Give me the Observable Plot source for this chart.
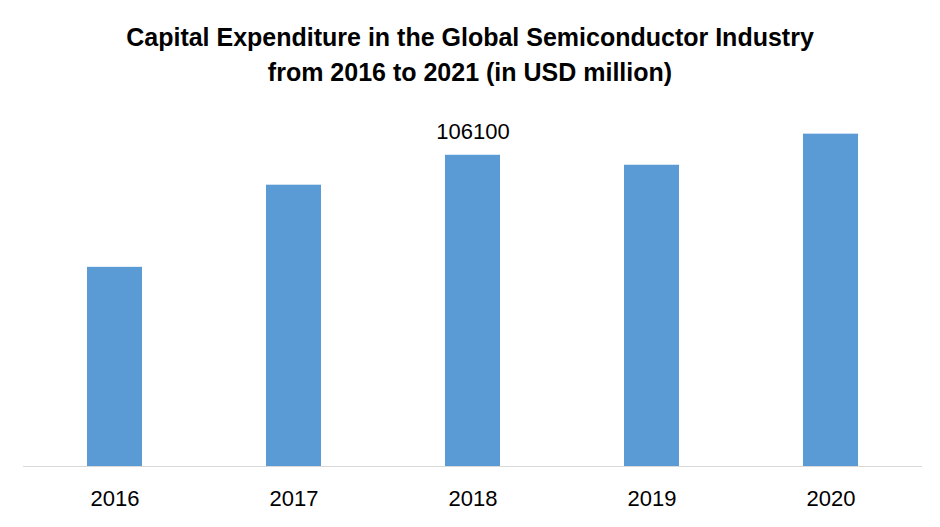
<!DOCTYPE html>
<html>
<head>
<meta charset="utf-8">
<script src="https://cdn.jsdelivr.net/npm/d3@7"></script>
<script src="https://cdn.jsdelivr.net/npm/@observablehq/plot@0.6"></script>
<style>
  html, body { margin: 0; padding: 0; background: #fff; }
  #title {
    width: 940px; height: 100px; box-sizing: border-box; padding-top: 20px;
    text-align: center; font-family: "Liberation Sans", Arial, sans-serif;
    font-weight: bold; font-size: 25px; line-height: 35px; color: #000;
  }
  #chart svg { display: block; }
</style>
</head>
<body>
<div id="title">Capital Expenditure in the Global Semiconductor Industry<br>from 2016 to 2021 (in USD million)</div>
<div id="chart"></div>
<script>
const years = ["2016", "2017", "2018", "2019", "2020"];
const capex = [67900, 95900, 106100, 102700, 113300];
const labeledYears = ["2018"];

const data = years.map((y, i) => ({year: y, value: capex[i]}));
const labeled = data.filter(d => labeledYears.includes(d.year));

const chart = Plot.plot({
  width: 940,
  height: 427,
  marginLeft: 23,
  marginRight: 18,
  marginTop: 14,
  marginBottom: 61,
  style: {fontFamily: "'Liberation Sans', Arial, sans-serif", fontSize: "22px", color: "#000", background: "#fff"},
  x: {domain: years, paddingInner: 0.69, paddingOuter: 0.345, label: null, tickSize: 0, tickPadding: 24},
  y: {domain: [0, 120000], axis: null},
  marks: [
    Plot.barY(data, {x: "year", y: "value", fill: "#5b9bd5"}),
    Plot.ruleY([0], {stroke: "#d9d9d9", strokeWidth: 1}),
    Plot.text(labeled, {x: "year", y: "value", text: d => String(d.value), dy: -23, lineAnchor: "middle", fontSize: 22, fill: "#000"})
  ]
});
document.getElementById("chart").appendChild(chart);
</script>
</body>
</html>
